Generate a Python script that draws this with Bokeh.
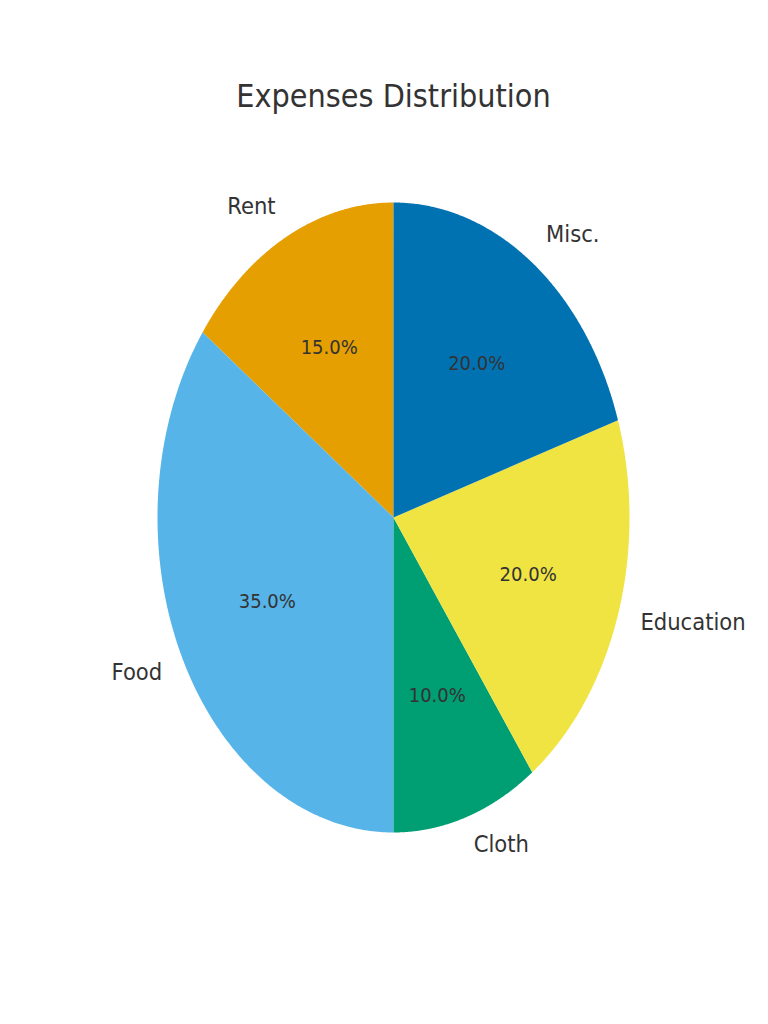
import numpy as np
from bokeh.plotting import figure
from bokeh.models import ColumnDataSource, Range1d
from bokeh.core.properties import value
from bokeh.embed import file_html
from bokeh.resources import INLINE

categories = ["Rent", "Food", "Cloth", "Education", "Misc."]
shares = [15, 35, 10, 20, 20]
colors = ["#E69F00", "#56B4E9", "#009E73", "#F0E442", "#0072B2"]

FONT = "DejaVu Sans Condensed, DejaVu Sans"

W, H = 768, 1024
cx_px, cy_px = 393, 517
rx_px, ry_px = 236, 315

p = figure(width=W, height=H, output_backend="svg", toolbar_location=None,
           min_border=0, x_axis_type=None, y_axis_type=None)
p.x_range = Range1d(-cx_px / rx_px, (W - cx_px) / rx_px)
p.y_range = Range1d(-(H - cy_px) / ry_px, cy_px / ry_px)
p.grid.visible = False
p.outline_line_color = None
p.background_fill_color = "white"
p.border_fill_color = "white"

total = float(sum(shares))
start = np.pi / 2
xs, ys, lx, ly, la, px, py, pt = [], [], [], [], [], [], [], []
for cat, s in zip(categories, shares):
    span = 2 * np.pi * s / total
    th = np.linspace(start, start + span, 200)
    xs.append([0.0] + list(np.cos(th)))
    ys.append([0.0] + list(np.sin(th)))
    mid = start + span / 2
    lx.append(1.1 * np.cos(mid))
    ly.append(1.1 * np.sin(mid))
    la.append("left" if np.cos(mid) >= 0 else "right")
    px.append(0.6 * np.cos(mid))
    py.append(0.6 * np.sin(mid))
    pt.append(f"{s / total * 100:.1f}%")
    start += span

p.patches(xs=xs, ys=ys, fill_color=colors, line_color=None)

lsrc = ColumnDataSource(dict(x=lx, y=ly, t=categories, a=la))
p.text(x="x", y="y", text="t", text_align="a", text_baseline="middle", y_offset=-3,
       text_font=value(FONT), text_font_size="23.5px", text_color="#333333", source=lsrc)

psrc = ColumnDataSource(dict(x=px, y=py, t=pt))
p.text(x="x", y="y", text="t", text_align="center", text_baseline="middle", y_offset=-2,
       text_font=value(FONT), text_font_size="20px", text_color="#333333", source=psrc)

p.text(x=[(393 - cx_px) / rx_px], y=[(cy_px - 96) / ry_px], text=["Expenses Distribution"],
       text_align="center", text_baseline="middle", y_offset=-1, text_font=value(FONT),
       text_font_size="32px", text_color="#333333")

open("out.html", "w").write(file_html(p, INLINE))
